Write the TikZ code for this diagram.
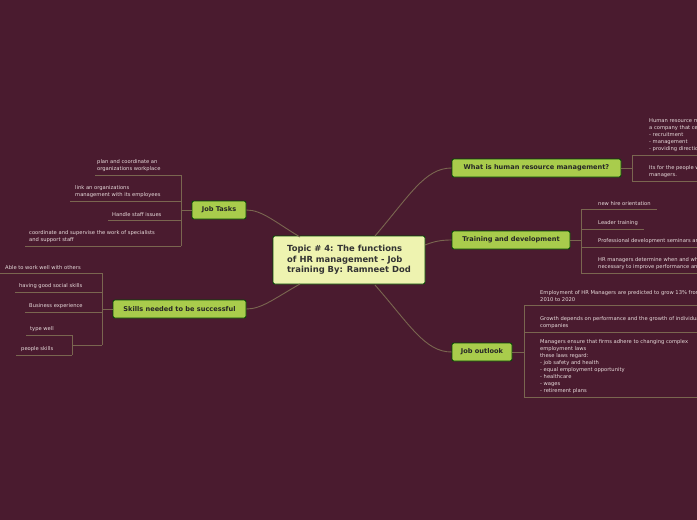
\documentclass[tikz,border=0pt]{standalone}
\usepackage{fontspec}
\setmainfont{DejaVu Sans}
\definecolor{bg}{HTML}{4A1B2F}
\definecolor{ln}{HTML}{7A6650}
\definecolor{mainf}{HTML}{A9CC4C}
\definecolor{ctrf}{HTML}{EEF3B0}
\definecolor{leaftxt}{HTML}{E8DCDC}
\begin{document}
\begin{tikzpicture}[x=1pt,y=-1pt,
  topic/.style={draw=black!70!green,line width=0.8pt,fill=mainf,rounded corners=2pt,font=\fontsize{6.6}{8}\selectfont\bfseries,text=black!85,inner sep=0pt,minimum height=18pt},
  center/.style={draw=black!70!green,line width=0.8pt,fill=ctrf,rounded corners=2pt,font=\fontsize{8.4}{10.5}\selectfont\bfseries,text=black!80,align=left,inner sep=0pt,minimum width=152pt,minimum height=48pt},
  leaf/.style={anchor=south west,font=\fontsize{5.2}{7}\selectfont,text=leaftxt,align=left,inner sep=0pt},
  conn/.style={ln,line width=0.9pt},
  br/.style={ln,line width=0.6pt}]
\fill[bg] (0,0) rectangle (697,520);
\clip (0,0) rectangle (697,520);
\useasboundingbox (0,0) rectangle (697,520);
% main nodes
\node[center] (c) at (349,260) {Topic \# 4: The functions\\of HR management - Job\\training By: Ramneet Dod};
\node[topic,minimum width=54pt] (jt) at (219,210) {Job Tasks};
\node[topic,minimum width=133pt] (sk) at (179.5,309) {Skills needed to be successful};
\node[topic,minimum width=169pt] (hr) at (536.5,168) {What is human resource management?};
\node[topic,minimum width=118pt] (tr) at (511,240) {Training and development};
\node[topic,minimum width=60pt] (jo) at (482,352) {Job outlook};
% connectors
\draw[conn] (300,237) .. controls (275,222) and (262,210) .. (jt.east);
\draw[conn] (300,284) .. controls (275,298) and (262,309) .. (sk.east);
\draw[conn] (375,236) .. controls (410,195) and (425,168) .. (hr.west);
\draw[conn] (425,245) .. controls (435,241) and (442,240) .. (tr.west);
\draw[conn] (375,285) .. controls (410,325) and (425,352) .. (jo.west);
% Job Tasks leaves
\coordinate (jb) at (181,210);
\draw[br] (jt.west) -- (jb);
\draw[br] (181,175) -- (181,246);
\node[leaf] (j1) at (97,172) {plan and coordinate an\\organizations workplace};
\draw[br] (95,175) -- (181,175);
\node[leaf] (j2) at (75,198) {link an organizations\\management with its employees};
\draw[br] (70,201) -- (181,201);
\node[leaf] (j3) at (112,217) {Handle staff issues};
\draw[br] (108,220) -- (181,220);
\node[leaf] (j4) at (29,243) {coordinate and supervise the work of specialists\\and support staff};
\draw[br] (25,246) -- (181,246);
% Skills leaves
\draw[br] (sk.west) -- (102,309);
\draw[br] (102,273) -- (102,345);
\node[leaf] (s1) at (5,270) {Able to work well with others};
\draw[br] (0,273) -- (102,273);
\node[leaf] (s2) at (19,289) {having good social skills};
\draw[br] (15,292) -- (102,292);
\node[leaf] (s3) at (29,309) {Business experience};
\draw[br] (25,312) -- (102,312);
\draw[br] (72,345) -- (102,345);
\draw[br] (72,335) -- (72,355);
\node[leaf] (s4) at (30,332) {type well};
\draw[br] (26,335) -- (72,335);
\node[leaf] (s5) at (21,352) {people skills};
\draw[br] (16,355) -- (72,355);
% HR leaves
\draw[br] (hr.east) -- (632,168);
\draw[br] (632,155) -- (632,181);
\node[leaf] (h1) at (649,152) {Human resource management is the function within\\a company that centers on:\\- recruitment\\- management\\- providing direction for the people who work there};
\draw[br] (632,155) -- (697,155);
\node[leaf] (h2) at (649,178) {Its for the people who work in the company and their\\managers.};
\draw[br] (632,181) -- (697,181);
% Training leaves
\draw[br] (tr.east) -- (581,240);
\draw[br] (581,209) -- (581,273);
\node[leaf] (t1) at (598,206) {new hire orientation};
\draw[br] (581,209) -- (657,209);
\node[leaf] (t2) at (598,226) {Leader training};
\draw[br] (581,229) -- (644,229);
\node[leaf] (t3) at (598,244) {Professional development seminars and conferences};
\draw[br] (581,247) -- (697,247);
\node[leaf] (t4) at (598,270) {HR managers determine when and where training is\\necessary to improve performance and skills};
\draw[br] (581,273) -- (697,273);
% Job outlook leaves
\draw[br] (jo.east) -- (524,352);
\draw[br] (524,305) -- (524,397);
\node[leaf] (o1) at (540,302) {Employment of HR Managers are predicted to grow 13\% from\\2010 to 2020};
\draw[br] (524,305) -- (697,305);
\node[leaf] (o2) at (540,329) {Growth depends on performance and the growth of individual\\companies};
\draw[br] (524,332) -- (697,332);
\node[leaf] (o3) at (540,394) {Managers ensure that firms adhere to changing complex\\employment laws\\these laws regard:\\- job safety and health\\- equal employment opportunity\\- healthcare\\- wages\\- retirement plans};
\draw[br] (524,397) -- (697,397);
\end{tikzpicture}
\end{document}
